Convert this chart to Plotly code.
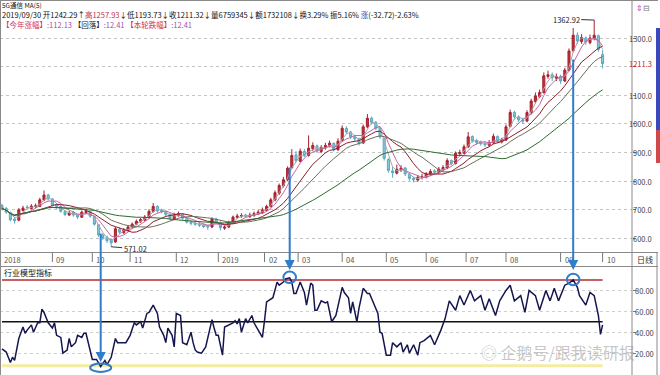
import plotly.graph_objects as go
import pandas as pd

# ---------------- data ----------------
closes = [705,692,665,662,700,706,708,713,714,735,
          752,738,716,712,695,684,690,682,675,692,
          694,678,650,612,602,592,585,634,622,630,
          640,650,660,666,675,695,712,696,693,684,
          670,682,686,671,657,653,650,646,642,640,
          668,657,638,640,656,675,678,680,678,682,
          687,692,700,712,735,760,785,805,845,890,
          872,905,890,915,925,905,918,925,933,910,
          940,985,972,955,948,932,990,1020,1006,985,
          955,880,838,830,842,846,825,810,805,814,
          815,825,834,832,842,848,872,862,898,900,
          920,955,941,935,931,927,935,957,940,945,
          990,1040,1025,1014,1010,1040,1080,1098,1110,1168,
          1172,1162,1166,1150,1188,1255,1310,1290,1302,1286,
          1300,1310,1260,1211.32]
opens = [715,705,690,668,664,698,710,705,712,712,
         734,752,738,718,712,694,682,692,682,674,
         690,694,676,648,612,604,596,588,632,620,
         628,638,650,660,664,674,694,712,698,694,
         684,668,680,686,670,658,654,650,646,644,
         640,668,656,636,640,656,674,678,682,676,
         680,686,690,698,712,734,758,784,806,848,
         892,870,904,890,914,924,904,916,924,932,
         910,942,984,972,956,948,934,990,1020,1006,
         986,950,876,836,828,840,846,824,810,804,
         814,814,824,836,830,840,846,872,862,896,
         898,920,956,942,936,932,926,934,956,938,
         944,992,1040,1024,1014,1010,1040,1078,1096,1110,
         1166,1172,1160,1166,1150,1188,1256,1310,1288,1300,
         1284,1298,1308,1242.29]
highs = [722,710,694,676,706,714,716,720,722,742,
         768,756,740,724,716,700,698,696,686,698,
         702,696,680,650,618,610,600,640,638,636,
         646,656,666,672,682,702,724,716,704,698,
         688,690,694,688,674,662,660,656,652,648,
         674,672,660,648,662,680,686,688,686,690,
         694,700,708,718,742,768,792,815,852,912,
         905,914,912,960,936,928,926,934,942,936,
         950,995,992,976,962,952,998,1035,1026,1010,
         990,952,880,850,858,856,850,830,816,822,
         826,832,842,842,850,856,880,876,904,910,
         928,972,960,948,942,938,944,966,960,952,
         998,1050,1046,1030,1022,1048,1088,1110,1120,1180,
         1186,1180,1176,1172,1196,1264,1335,1320,1314,1306,
         1312,1362.92,1312,1257.93]
lows = [698,686,660,652,660,694,700,702,706,710,
        730,732,712,704,690,678,678,676,668,672,
        686,672,645,605,595,585,571.02,585,616,616,
        624,634,646,654,660,670,690,690,688,678,
        664,664,676,665,652,646,644,640,636,630,
        636,652,628,630,636,652,668,672,672,672,
        676,682,686,694,708,730,752,778,800,842,
        866,866,884,886,905,898,898,910,918,904,
        906,938,965,948,940,925,930,985,998,978,
        948,872,830,812,824,832,818,802,796,798,
        806,810,818,824,826,834,842,855,858,888,
        894,916,935,928,924,920,920,930,934,932,
        940,988,1016,1006,1000,1006,1034,1072,1090,1106,
        1158,1150,1150,1140,1146,1184,1250,1280,1280,1276,
        1278,1292,1252,1193.73]
# each candle covers two trading days
days = [2 * i for i in range(len(closes))]

ma_periods = [3, 5, 10, 15, 30]
ma_colors = ['#A8A8A8', '#C864A8', '#8C1E28', '#6E6E5A', '#2E6B30']

ind_day = [0,2,4,5,6,8,10,11,12,14,
           15,17,18,19,20,22,24,25,26,28,
           29,31,32,33,35,36,38,39,40,41,
           43,45,47,49,50,52,54,55,57,59,
           61,63,64,66,67,69,70,72,74,75,
           77,78,79,81,82,83,85,86,88,90,
           91,92,93,95,97,98,100,101,102,103,
           105,106,108,110,111,112,113,114,116,117,
           119,120,122,124,125,126,129,130,131,132,
           134,135,137,138,139,140,142,144,145,147,
           148,149,150,152,154,155,157,159,160,162,
           163,165,166,167,169,170,172,174,175,177,
           179,180,181,183,185,186,188,190,191,193,
           194,196,198,199,201,204,206,209,211,213,
           216,218,220,223,225,228,230,232,235,237,
           240,242,244,247,249,251,254,256,259,261,
           263,265,268,270,272,274,275,278,280,282,
           284,285,286]
ind_val = [24,21,11,16,13,34,45,39,42,47,
           40,49,49,62,59,49,44,49,37,35,
           20,23,34,26,30,37,35,39,39,30,
           14,14,7,13,9,16,34,30,30,30,
           37,49,47,50,44,58,59,66,58,45,
           37,30,44,37,26,58,56,30,28,40,
           30,23,21,20,26,35,52,44,37,37,
           18,45,47,49,51,48,53,40,53,49,
           56,49,42,35,51,69,73,82,88,85,
           88,91,92,88,77,77,88,78,66,87,
           85,61,61,70,68,69,50,56,66,83,
           78,73,58,69,50,63,82,77,77,68,
           58,40,39,18,18,30,26,30,21,28,
           20,28,18,30,32,37,28,42,53,70,
           61,75,66,80,70,75,61,72,56,70,
           80,85,70,75,59,80,75,61,80,70,
           82,70,85,87,90,83,75,66,78,75,
           56,38,47]
level_vals = [90, 50, 8]
level_colors = ['#B8282E', '#111111', '#F2EDA0']
level_widths = [1.5, 1.5, 3]

price_ticks = [600, 700, 800, 900, 1000, 1100, 1200, 1300]
ind_ticks = [20, 40, 60, 80]

month_days = [24, 43, 61, 83, 103, 125, 141, 162, 183, 202, 221, 240, 266, 286]
month_labels = ['09', '10', '11', '12', '2019', '02', '03', '04', '05', '06', '07', '08', '09', '10']

# ---------------- geometry helpers ----------------
H = 375.0
PW = 632.0
def py(p):
    return 1 - p / H
def px(p):
    return p / PW

FONT = 'Noto Sans CJK SC'
fig = go.Figure()

fig.add_trace(go.Candlestick(
    x=days, open=opens, high=highs, low=lows, close=closes,
    increasing=dict(line=dict(color='#A8202C', width=1), fillcolor='#C03038'),
    decreasing=dict(line=dict(color='#5AA6BE', width=1), fillcolor='#8CCADB'),
    whiskerwidth=0, showlegend=False, hoverinfo='skip', xaxis='x', yaxis='y'))

cs = pd.Series(closes)
for p, c in zip(ma_periods, ma_colors):
    fig.add_trace(go.Scatter(x=days, y=cs.rolling(p, min_periods=1).mean(), mode='lines',
                             line=dict(color=c, width=1), showlegend=False, hoverinfo='skip',
                             xaxis='x', yaxis='y'))

for v, c, w in zip(level_vals, level_colors, level_widths):
    fig.add_trace(go.Scatter(x=[days[0], days[-1]], y=[v, v], mode='lines',
                             line=dict(color=c, width=w), showlegend=False, hoverinfo='skip',
                             xaxis='x', yaxis='y2'))

fig.add_trace(go.Scatter(x=ind_day, y=ind_val, mode='lines', line=dict(color='#16164E', width=1.5),
                         showlegend=False, hoverinfo='skip', xaxis='x', yaxis='y2'))

shapes = []
anns = []

# frame lines
line_c = '#8A8A8A'
shapes += [
    dict(type='line', xref='paper', yref='paper', x0=0, x1=px(658), y0=py(0.5), y1=py(0.5), line=dict(color=line_c, width=1)),
    dict(type='line', xref='paper', yref='paper', x0=px(0.5), x1=px(0.5), y0=0, y1=1, line=dict(color=line_c, width=1)),
    dict(type='line', xref='paper', yref='paper', x0=1, x1=1, y0=0, y1=1, line=dict(color=line_c, width=1)),
    dict(type='line', xref='paper', yref='paper', x0=0, x1=px(658), y0=py(252.5), y1=py(252.5), line=dict(color=line_c, width=1)),
    dict(type='line', xref='paper', yref='paper', x0=0, x1=px(658), y0=py(266.5), y1=py(266.5), line=dict(color=line_c, width=1)),
    dict(type='line', xref='paper', yref='paper', x0=px(657), x1=px(657), y0=0, y1=py(252.5), line=dict(color=line_c, width=1)),
    dict(type='rect', xref='paper', yref='paper', x0=px(656), x1=px(660), y0=py(130), y1=py(28), line=dict(width=0), fillcolor='#3A48C0'),
    dict(type='rect', xref='paper', yref='paper', x0=px(656), x1=px(660), y0=py(163), y1=py(130), line=dict(width=0), fillcolor='#D04848'),
]

# date axis
small = dict(family=FONT, size=7.5, color='#555555')
anns.append(dict(x=px(2), y=py(259), xref='paper', yref='paper', text='2018', showarrow=False,
                 xanchor='left', yanchor='middle', font=small))
for d, lab in zip(month_days, month_labels):
    shapes.append(dict(type='line', xref='x', yref='paper', x0=d, x1=d, y0=py(262), y1=py(253),
                       line=dict(color='#777777', width=1)))
    anns.append(dict(x=d, y=py(259), xref='x', yref='paper', text=lab, showarrow=False,
                     xanchor='left', yanchor='middle', xshift=2, font=small))
anns.append(dict(x=px(645), y=py(259.5), xref='paper', yref='paper', text='日线', showarrow=False,
                 xanchor='center', yanchor='middle', font=dict(family=FONT, size=8, color='#333333')))

# right-side labels
last_close = closes[-1]
for v in price_ticks:
    if abs(v - last_close) < 25:
        continue
    anns.append(dict(x=px(654), y=v, xref='paper', yref='y', text=f'{v:.1f}', showarrow=False,
                     xanchor='right', yanchor='middle', font=dict(family=FONT, size=7.5, color='#444444')))
anns.append(dict(x=px(654), y=last_close, xref='paper', yref='y', text=f'{last_close:.1f}', showarrow=False,
                 xanchor='right', yanchor='middle', font=dict(family=FONT, size=7.5, color='#C02020')))
for v in ind_ticks:
    anns.append(dict(x=px(656), y=v, xref='paper', yref='y2', text=f'{v:.2f}', showarrow=False,
                     xanchor='right', yanchor='middle', font=dict(family=FONT, size=7.5, color='#444444')))

# header texts
hdr = dict(family=FONT, size=7.5, color='#111111')
anns.append(dict(x=px(1), y=py(5), xref='paper', yref='paper', text='5G通信 MA(5)', showarrow=False,
                 xanchor='left', yanchor='middle', borderpad=0, font=dict(family=FONT, size=6.5, color='#111111')))
line2 = ("2019/09/30 开1242.29↑<span style='color:#C83040'>高1257.93</span>↓低1193.73↓收1211.32↓"
         "量6759345↓额1732108↓换3.29% 振5.16% <span style='color:#2848B0'>涨</span>(-32.72)-2.63%")
anns.append(dict(x=px(1), y=py(14.5), xref='paper', yref='paper', text=line2, showarrow=False,
                 xanchor='left', yanchor='middle', borderpad=0, font=hdr))
line3 = ("<span style='color:#D0306A'>【今年涨幅】</span><span style='color:#A050A8'>:112.13</span> "
         "<span style='color:#222222'>【回落】</span><span style='color:#A050A8'>:12.41</span> "
         "<span style='color:#D03040'>【本轮跌幅】</span><span style='color:#A050A8'>:12.41</span>")
anns.append(dict(x=px(1), y=py(25), xref='paper', yref='paper', text=line3, showarrow=False,
                 xanchor='left', yanchor='middle', borderpad=0, font=hdr))
anns.append(dict(x=px(643), y=py(7.5), xref='paper', yref='paper', text="<span style='color:#C040C0'>⇕</span>⊟",
                 showarrow=False, xanchor='center', yanchor='middle', font=dict(family=FONT, size=8, color='#777777')))

anns.append(dict(x=px(2), y=py(272), xref='paper', yref='paper', text='行业模型指标', showarrow=False,
                 xanchor='left', yanchor='middle', font=dict(family=FONT, size=8, color='#111111')))

# high / low labels
hi_i = max(range(len(highs)), key=lambda i: highs[i])
lo_i = min(range(len(lows)), key=lambda i: lows[i])
anns.append(dict(x=days[hi_i], y=highs[hi_i], xref='x', yref='y', text=f'{highs[hi_i]:.2f}',
                 showarrow=True, arrowhead=0, arrowwidth=1, arrowcolor='#333333', ax=-28, ay=-1,
                 font=dict(family=FONT, size=7.5, color='#222222')))
anns.append(dict(x=days[lo_i], y=lows[lo_i], xref='x', yref='y', text=f'{lows[lo_i]:.2f}',
                 showarrow=True, arrowhead=0, arrowwidth=1, arrowcolor='#333333', ax=24, ay=2,
                 font=dict(family=FONT, size=7.5, color='#222222')))

# blue arrows and circles marking indicator extremes
blue = '#2F7DCB'
i_min = min(range(len(ind_val)), key=lambda i: ind_val[i])
i_pk1 = max([i for i in range(len(ind_day)) if ind_day[i] < 200], key=lambda i: ind_val[i])
i_pk2 = max([i for i in range(len(ind_day)) if ind_day[i] >= 200], key=lambda i: ind_val[i])
for idx, tail, head in [(i_min, 232, 362), (i_pk1, 166, 270), (i_pk2, 58, 270)]:
    anns.append(dict(x=ind_day[idx], y=py(head), xref='x', yref='paper', text='', showarrow=True,
                     arrowhead=2, arrowsize=1, arrowwidth=2, arrowcolor=blue, ax=0, ay=-(head - tail)))
d0 = ind_day[i_min]; v0 = ind_val[i_min]
shapes.append(dict(type='circle', xref='x', yref='y2', x0=d0 - 5, x1=d0 + 5, y0=v0 - 5, y1=v0 + 3,
                   line=dict(color=blue, width=2)))
for idx in (i_pk1, i_pk2):
    d = ind_day[idx]; v = ind_val[idx]
    shapes.append(dict(type='circle', xref='x', yref='y2', x0=d - 3, x1=d + 3, y0=v - 5, y1=v + 6,
                       line=dict(color=blue, width=2)))

# watermark
anns.append(dict(x=px(558), y=py(352), xref='paper', yref='paper', text='◎ 企鹅号/跟我读研报', showarrow=False,
                 xanchor='center', yanchor='middle',
                 font=dict(family=FONT, size=16, color='rgba(150,150,150,0.55)')))

fig.update_layout(
    width=660, height=375,
    margin=dict(l=0, r=28, t=0, b=0),
    paper_bgcolor='white', plot_bgcolor='white',
    showlegend=False,
    xaxis=dict(domain=[0, 1], range=[-0.95, 300], showgrid=False, zeroline=False, showticklabels=False,
               ticks='', rangeslider=dict(visible=False), anchor='y', fixedrange=True),
    yaxis=dict(domain=[1 - 252.5 / H, 1], range=[551, 1433], side='right', tickvals=price_ticks,
               showticklabels=False, showgrid=True, gridcolor='#C4C4C4', griddash='dot', gridwidth=1,
               zeroline=False, ticks='outside', ticklen=3, tickcolor='#777777', anchor='x'),
    yaxis2=dict(domain=[0, 1 - 266.5 / H], range=[-0.95, 102.9], side='right', tickvals=ind_ticks,
                showticklabels=False, showgrid=True, gridcolor='#CFCFCF', griddash='dot', gridwidth=1,
                zeroline=False, ticks='outside', ticklen=3, tickcolor='#777777', anchor='x'),
    shapes=shapes, annotations=anns,
    font=dict(family=FONT),
)

fig.write_html('out.html')
